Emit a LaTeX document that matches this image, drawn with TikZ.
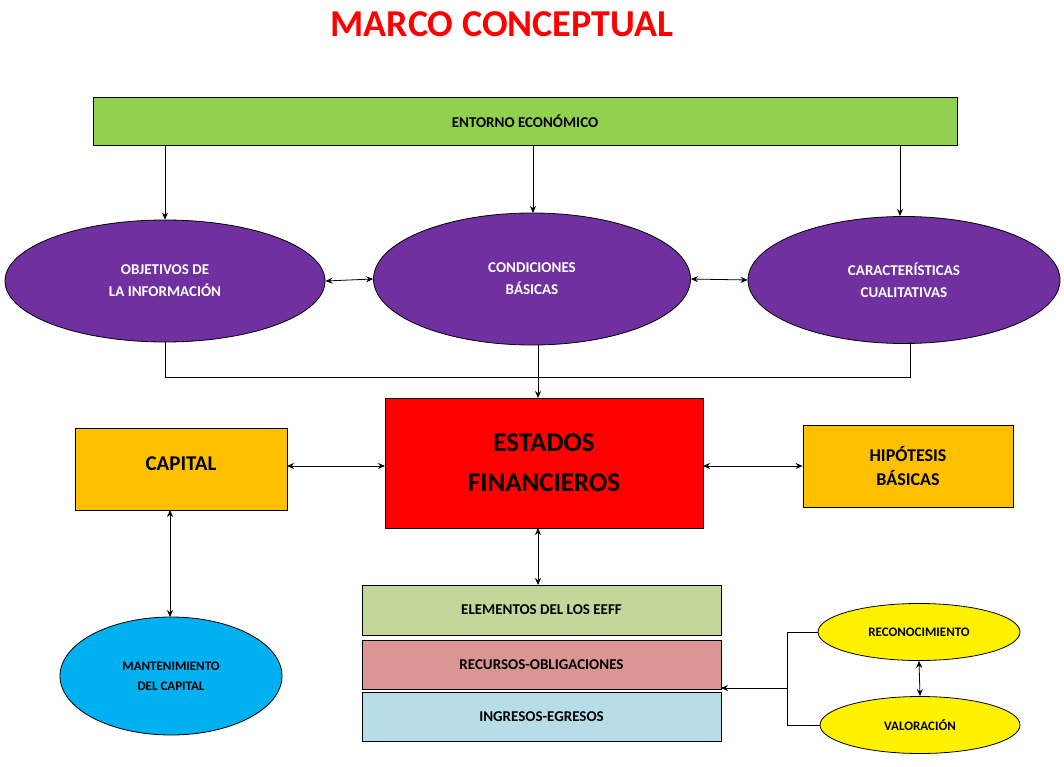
\documentclass[tikz,border=0pt]{standalone}
\usepackage{fontspec}
\setmainfont{Carlito}
\usetikzlibrary{shapes.geometric,arrows.meta}
\definecolor{purp}{HTML}{7030A0}
\definecolor{orng}{HTML}{FFC000}
\definecolor{grn}{HTML}{92D050}
\definecolor{cyn}{HTML}{00B0F0}
\definecolor{cel}{HTML}{C4D79B}
\definecolor{cer}{HTML}{DA9694}
\definecolor{cei}{HTML}{B7DEE8}
\begin{document}
\begin{tikzpicture}[x=1pt,y=-1pt,
  box/.style={draw,thick,fill=#1,inner sep=0pt,font=\bfseries\fontsize{15}{18}\selectfont,align=center},
  ell/.style={ellipse,draw,thick,fill=#1,inner sep=0pt,font=\bfseries\fontsize{15}{22}\selectfont,align=center},
  arr/.style={-{Stealth[length=7pt,width=6pt]},thick},
  darr/.style={{Stealth[length=7pt,width=6pt]}-{Stealth[length=7pt,width=6pt]},thick}]
\useasboundingbox (0,0) rectangle (1064,767);
\node[text=red,font=\bfseries\fontsize{38}{40}\selectfont] (title) at (502,24) {MARCO CONCEPTUAL};
\node[box=grn,minimum width=864pt,minimum height=48pt] (ent) at (525,121) {ENTORNO ECONÓMICO};
\node[ell=purp,text=white,minimum width=320pt,minimum height=122pt] (obj) at (165,281) {OBJETIVOS DE\\LA INFORMACIÓN};
\node[ell=purp,text=white,minimum width=317pt,minimum height=132pt] (cond) at (532,279) {CONDICIONES\\BÁSICAS};
\node[ell=purp,text=white,minimum width=312pt,minimum height=127pt] (car) at (904,280) {CARACTERÍSTICAS\\CUALITATIVAS};
\node[box=red,minimum width=318pt,minimum height=130pt,font=\bfseries\fontsize{27}{40}\selectfont] (ef) at (544,463) {ESTADOS\\FINANCIEROS};
\node[box=orng,minimum width=212pt,minimum height=82pt,font=\bfseries\fontsize{21}{24}\selectfont] (cap) at (181,469) {\raisebox{10pt}{CAPITAL}};
\node[box=orng,minimum width=210pt,minimum height=82pt,font=\bfseries\fontsize{18}{24}\selectfont] (hip) at (908,466) {HIPÓTESIS\\BÁSICAS};
\node[ell=cyn,minimum width=222pt,minimum height=118pt,font=\bfseries\fontsize{13}{20}\selectfont] (man) at (171,676) {MANTENIMIENTO\\DEL CAPITAL};
\node[box=cel,minimum width=359pt,minimum height=50pt] (ele) at (541.5,610) {ELEMENTOS DEL LOS EEFF};
\node[box=cer,minimum width=359pt,minimum height=49pt] (rec) at (541.5,664.5) {RECURSOS-OBLIGACIONES};
\node[box=cei,minimum width=359pt,minimum height=49pt] (ing) at (541.5,716.5) {INGRESOS-EGRESOS};
\node[ell=yellow,minimum width=202pt,minimum height=57pt,font=\bfseries\fontsize{13}{16}\selectfont] (reco) at (919,632) {RECONOCIMIENTO};
\node[ell=yellow,minimum width=200pt,minimum height=57pt,font=\bfseries\fontsize{13}{16}\selectfont] (val) at (920,725) {VALORACIÓN};
\coordinate (j) at (787,688);
\draw[arr] (165,145) -- (obj.north);
\draw[arr] (533,145) -- (533,213);
\draw[arr] (900,145) -- (900,216);
\draw[darr] (obj.east) -- (cond.west);
\draw[darr] (cond.east) -- (car.west);
\draw[thin] (obj.south) -- (165,377) -- (910,377) -- (910,342);
\draw[arr] (538,344) -- (538,398);
\draw[darr] (287,466) -- (385,466);
\draw[darr] (703,466) -- (hip.west);
\draw[darr] (170,510) -- (170,617);
\draw[darr] (538,528) -- (538,585);
\draw[darr] (reco.south) -- (val.north);
\draw[thin] (reco.west) -- (787,632) -- (787,725) -- (val.west);
\draw[arr] (j) -- (721,688);
\end{tikzpicture}
\end{document}
